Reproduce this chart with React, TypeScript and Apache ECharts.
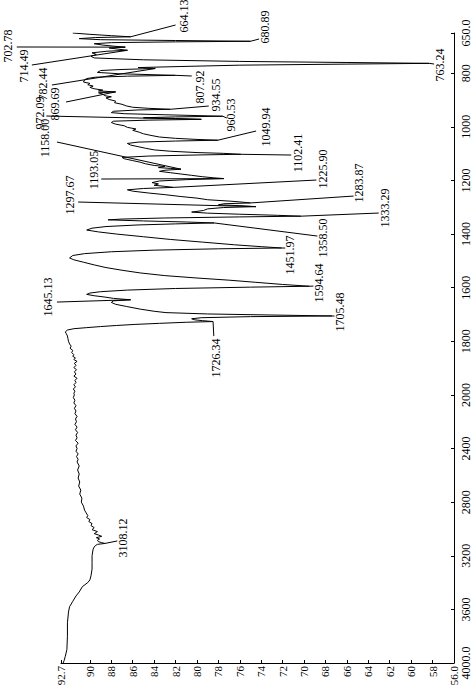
import React, { useEffect, useRef } from "react";
import * as echarts from "echarts";

// Spectrum: wavenumber (cm-1) and transmittance (%T)
const wavenumbers = [
  650, 655, 660, 664.13, 667, 671, 675, 678, 680.89, 683, 686, 690, 695, 699, 702.78, 706, 710, 714.49, 718, 724,
  730, 737, 743, 750, 756, 760, 763.24, 766, 770, 775, 779, 782.44, 786, 790, 797, 802, 807.92, 811, 815, 820,
  825, 833, 838, 843, 848, 853, 858, 863, 866, 869.69, 873, 878, 884, 888, 892, 898, 904, 910, 916, 922,
  927, 931, 934.55, 937, 942, 947, 951, 955, 958, 960.53, 963, 966, 969, 972.09, 975, 979, 984, 990, 996, 1002,
  1008, 1013, 1020, 1026, 1032, 1038, 1043, 1047, 1049.94, 1053, 1057, 1062, 1068, 1074, 1080, 1086, 1091, 1096, 1099, 1102.41,
  1105, 1109, 1114, 1119, 1126, 1132, 1138, 1144, 1148, 1152, 1155, 1158.0, 1162, 1166, 1171, 1176, 1181, 1186, 1190, 1193.05,
  1197, 1202, 1208, 1213, 1218, 1222, 1225.9, 1230, 1235, 1240, 1247, 1253, 1260, 1266, 1272, 1277, 1280, 1283.87, 1287, 1291,
  1294, 1297.67, 1301, 1306, 1312, 1318, 1322, 1326, 1330, 1333.29, 1336, 1340, 1344, 1347, 1351, 1355, 1358.5, 1362, 1366, 1372,
  1378, 1385, 1392, 1400, 1410, 1420, 1430, 1440, 1447, 1451.97, 1455, 1460, 1466, 1473, 1480, 1489, 1496, 1505, 1515, 1525,
  1535, 1545, 1555, 1564, 1572, 1580, 1588, 1594.64, 1598, 1603, 1609, 1615, 1620, 1625, 1630, 1635, 1640, 1645.13, 1649, 1655,
  1662, 1670, 1680, 1688, 1693, 1698, 1702, 1705.48, 1708, 1712, 1716, 1720, 1723, 1726.34, 1729, 1733, 1737, 1741, 1745, 1749,
  1753, 1758, 1765, 1772, 1780, 1790, 1800, 1810, 1818, 1826, 1834, 1842, 1850, 1856, 1862, 1868, 1875, 1882, 1890, 1898,
  1906, 1914, 1922, 1930, 1938, 1946, 1954, 1962, 1970, 1978, 1986, 1994, 2000, 2020, 2040, 2060, 2080, 2100, 2120, 2140,
  2160, 2180, 2200, 2220, 2240, 2260, 2280, 2300, 2320, 2340, 2360, 2380, 2400, 2420, 2440, 2460, 2480, 2500, 2530, 2560,
  2590, 2620, 2650, 2680, 2710, 2740, 2770, 2800, 2830, 2860, 2880, 2900, 2915, 2930, 2945, 2960, 2975, 2990, 3005, 3020,
  3035, 3045, 3055, 3065, 3075, 3085, 3095, 3102, 3108.12, 3115, 3125, 3135, 3150, 3200, 3250, 3300, 3350, 3380, 3400, 3430,
  3470, 3500, 3540, 3580, 3620, 3700, 3800, 3900, 3950, 3980, 4000,
];
const transmittance = [
  91.6, 90.0, 88.0, 86.2, 89.5, 91.0, 89.0, 82.0, 75.0, 82.0, 88.0, 89.6, 88.8, 87.8, 86.7, 88.2, 87.4, 86.5, 88.4, 89.8,
  89.4, 89.9, 89.6, 85.0, 76.0, 66.0, 58.3, 66.0, 76.0, 81.5, 85.5, 83.9, 87.0, 89.0, 89.3, 87.3, 82.0, 86.5, 89.5, 90.3,
  90.5, 90.6, 90.0, 90.2, 89.7, 90.0, 89.6, 88.8, 89.2, 87.6, 89.2, 88.8, 88.6, 88.0, 88.5, 88.2, 87.6, 87.7, 87.0, 86.6,
  86.0, 84.5, 82.5, 85.5, 87.8, 88.0, 86.8, 83.0, 80.0, 77.6, 82.0, 85.0, 82.0, 79.6, 84.5, 87.8, 88.0, 87.6, 86.8, 86.5,
  85.7, 86.0, 85.4, 85.0, 84.3, 83.5, 82.0, 80.0, 78.05, 82.0, 85.5, 86.5, 86.2, 85.5, 84.8, 84.0, 82.5, 80.0, 77.5, 75.9,
  80.0, 84.5, 87.0, 86.8, 86.0, 85.3, 84.8, 84.0, 83.0, 83.6, 82.5, 81.5, 83.0, 83.5, 82.5, 81.5, 80.5, 79.5, 78.5, 77.5,
  81.0, 83.5, 84.2, 83.6, 84.0, 83.0, 82.2, 85.0, 86.5, 86.0, 84.5, 83.0, 81.5, 80.0, 79.0, 77.0, 76.0, 75.0, 77.5, 78.0,
  76.0, 74.5, 77.5, 79.0, 79.4, 80.5, 79.0, 76.0, 72.5, 70.3, 76.0, 83.0, 87.0, 88.3, 85.0, 81.0, 78.4, 82.0, 85.5, 88.5,
  89.8, 90.3, 89.2, 87.5, 85.0, 82.5, 79.5, 76.5, 74.0, 72.1, 78.0, 84.0, 88.0, 90.5, 91.6, 91.9, 91.5, 90.6, 89.6, 88.5,
  87.0, 85.3, 83.0, 80.0, 77.0, 74.5, 72.0, 69.5, 75.0, 82.0, 86.5, 89.0, 90.0, 90.3, 89.6, 88.6, 87.8, 86.2, 87.8, 88.0,
  87.6, 86.6, 85.3, 84.0, 82.9, 79.0, 73.0, 67.4, 75.0, 79.6, 80.5, 80.2, 79.5, 78.5, 81.0, 83.5, 85.8, 87.5, 89.0, 90.3,
  91.5, 92.1, 92.3, 92.2, 92.1, 92.05, 92.0, 91.9, 91.75, 91.85, 91.6, 91.7, 91.5, 91.6, 91.35, 91.5, 91.2, 91.45, 91.3, 91.5,
  91.25, 91.45, 91.3, 91.5, 91.2, 91.4, 91.3, 91.5, 91.35, 91.55, 91.4, 91.5, 91.45, 91.55, 91.4, 91.5, 91.3, 91.45, 91.3, 91.4,
  91.2, 91.35, 91.25, 91.4, 91.2, 91.35, 91.15, 91.3, 91.2, 91.35, 91.1, 91.3, 91.2, 91.3, 91.1, 91.25, 91.1, 91.2, 91.0, 91.15,
  91.0, 91.1, 90.95, 91.05, 90.85, 90.95, 90.75, 90.8, 90.6, 90.5, 90.35, 90.2, 90.3, 90.0, 90.1, 89.8, 89.9, 89.6, 89.8, 89.3,
  89.6, 89.2, 88.9, 89.4, 89.1, 89.3, 89.2, 88.9, 88.6, 89.3, 89.5, 89.6, 89.7, 89.8, 89.8, 89.8, 89.9, 90.0, 90.2, 90.7,
  91.0, 91.3, 91.6, 91.9, 92.0, 92.1, 92.1, 92.15, 92.3, 92.4, 92.5,
];

// Peak annotations
const peakWavenumbers = [
  664.13, 680.89, 702.78, 714.49, 763.24, 782.44, 807.92, 869.69, 934.55, 960.53, 972.09, 1049.94, 1102.41,
  1158.0, 1193.05, 1225.9, 1283.87, 1297.67, 1333.29, 1358.5, 1451.97, 1594.64, 1645.13, 1705.48, 1726.34, 3108.12,
];
const peakLabels = [
  "664.13", "680.89", "702.78", "714.49", "763.24", "782.44", "807.92", "869.69", "934.55", "960.53", "972.09", "1049.94", "1102.41",
  "1158.00", "1193.05", "1225.90", "1283.87", "1297.67", "1333.29", "1358.50", "1451.97", "1594.64", "1645.13", "1705.48", "1726.34", "3108.12",
];
// label centre, in data units (transmittance, wavenumber)
const labelT = [
  81.25, 73.64, 97.68, 96.17, 57.3, 94.39, 79.74, 93.26, 78.24, 76.83, 94.63, 73.55, 70.54,
  94.2, 89.6, 68.19, 64.91, 91.85, 62.47, 68.19, 71.29, 68.57, 93.92, 66.69, 78.24, 86.88,
];
const labelW = [
  586.6, 627.6, 698.5, 773.1, 769.4, 840.3, 851.5, 914.9, 881.3, 955.9, 948.5, 1000.7, 1097.7,
  1041.8, 1161.1, 1157.4, 1209.7, 1254.4, 1302.9, 1414.9, 1478.3, 1582.8, 1635.0, 1691.0, 1862.6, 3067.0,
];
// leader line end, in data units
const leaderT = [
  82.0, 74.2, 96.83, 95.42, 57.86, 93.55, 80.49, 92.23, 78.9, 77.21, 94.07, 74.48, 71.2,
  93.08, 88.94, 68.85, 65.38, 91.1, 63.03, 68.76, 71.76, 69.13, 93.08, 67.16, 78.43, 87.44,
];
const leaderW = [
  620.2, 672.4, 702.2, 769.4, 765.7, 844.0, 810.4, 907.4, 922.4, 967.1, 959.7, 1015.6, 1105.2,
  1056.7, 1194.7, 1198.5, 1258.2, 1280.5, 1321.6, 1407.4, 1452.2, 1594.0, 1653.6, 1705.9, 1780.5, 3089.5,
];

const transmittanceTicks = [92.7, 90, 88, 86, 84, 82, 80, 78, 76, 74, 72, 70, 68, 66, 64, 62, 60, 58, 56];
const wavenumberTicks = [650, 800, 1000, 1200, 1400, 1600, 1800, 2000, 2400, 2800, 3200, 3600, 4000];

// FTIR plot scale: region above 2000 cm-1 is compressed by 2
const toAxis = (w: number) => (w <= 2000 ? w : 2000 + (w - 2000) / 2);
const fromAxis = (t: number) => (t <= 2000 ? t : 2000 + (t - 2000) * 2);

const FONT = '"Liberation Serif", "DejaVu Serif", serif';

export default function App() {
  const ref = useRef<HTMLDivElement>(null);
  useEffect(() => {
    if (!ref.current) return;
    const chart = echarts.init(ref.current, undefined, { renderer: "svg" });
    const lineData = wavenumbers.map((w, i) => [transmittance[i], toAxis(w)]);
    const annData = peakWavenumbers.map((w, i) => {
      const idx = wavenumbers.indexOf(w);
      return [transmittance[idx], toAxis(w), leaderT[i], toAxis(leaderW[i]), labelT[i], toAxis(labelW[i])];
    });
    chart.setOption({
      animation: false,
      backgroundColor: "#fff",
      textStyle: { fontFamily: FONT },
      grid: { left: 61, right: 20, top: 33, bottom: 23, containLabel: false, outerBoundsMode: "none" },
      xAxis: {
        type: "value",
        min: 56,
        max: 92.7,
        inverse: true,
        position: "bottom",
        axisLine: { show: true, lineStyle: { color: "#000", width: 1 } },
        axisTick: { show: true, inside: true, length: 3, customValues: transmittanceTicks, lineStyle: { color: "#000" } },
        axisLabel: {
          rotate: 90,
          margin: 3,
          color: "#000",
          fontSize: 11,
          fontFamily: FONT,
          padding: [0, 0, 6, 0],
          customValues: transmittanceTicks,
          formatter: (v: number) => (Math.abs(v - 92.7) < 1e-6 ? "92.7" : Math.abs(v - 56) < 1e-6 ? "56.0" : String(v)),
        },
        splitLine: { show: false },
      },
      yAxis: {
        type: "value",
        min: 650,
        max: toAxis(4000),
        inverse: true,
        position: "right",
        axisLine: { show: true, lineStyle: { color: "#000", width: 1 } },
        axisTick: { show: true, inside: true, length: 3, customValues: wavenumberTicks.map(toAxis), lineStyle: { color: "#000" } },
        axisLabel: {
          rotate: 90,
          margin: 6,
          color: "#000",
          fontSize: 12,
          fontFamily: FONT,
          customValues: wavenumberTicks.map(toAxis),
          formatter: (t: number) => {
            const w = Math.round(fromAxis(t));
            return w === 650 ? "650.0" : w === 4000 ? "4000.0" : String(w);
          },
        },
        splitLine: { show: false },
      },
      series: [
        {
          type: "line",
          data: lineData,
          showSymbol: false,
          symbol: "none",
          lineStyle: { color: "#000", width: 1 },
          silent: true,
        },
        {
          type: "custom",
          clip: false,
          silent: true,
          data: annData,
          renderItem: (params: any, api: any) => {
            const i = params.dataIndex;
            const tip = api.coord([api.value(0), api.value(1)]);
            const end = api.coord([api.value(2), api.value(3)]);
            const lab = api.coord([api.value(4), api.value(5)]);
            return {
              type: "group",
              children: [
                {
                  type: "line",
                  shape: { x1: tip[0], y1: tip[1], x2: end[0], y2: end[1] },
                  style: { stroke: "#000", lineWidth: 1 },
                },
                {
                  type: "text",
                  x: lab[0],
                  y: lab[1],
                  rotation: Math.PI / 2,
                  style: {
                    text: peakLabels[i],
                    fill: "#000",
                    fontSize: 12,
                    fontFamily: FONT,
                    align: "center",
                    verticalAlign: "middle",
                  },
                },
              ],
            };
          },
        },
      ],
    });
    return () => chart.dispose();
  }, []);
  return <div ref={ref} style={{ position: "fixed", left: 0, top: 0, width: 474, height: 686 }} />;
}
